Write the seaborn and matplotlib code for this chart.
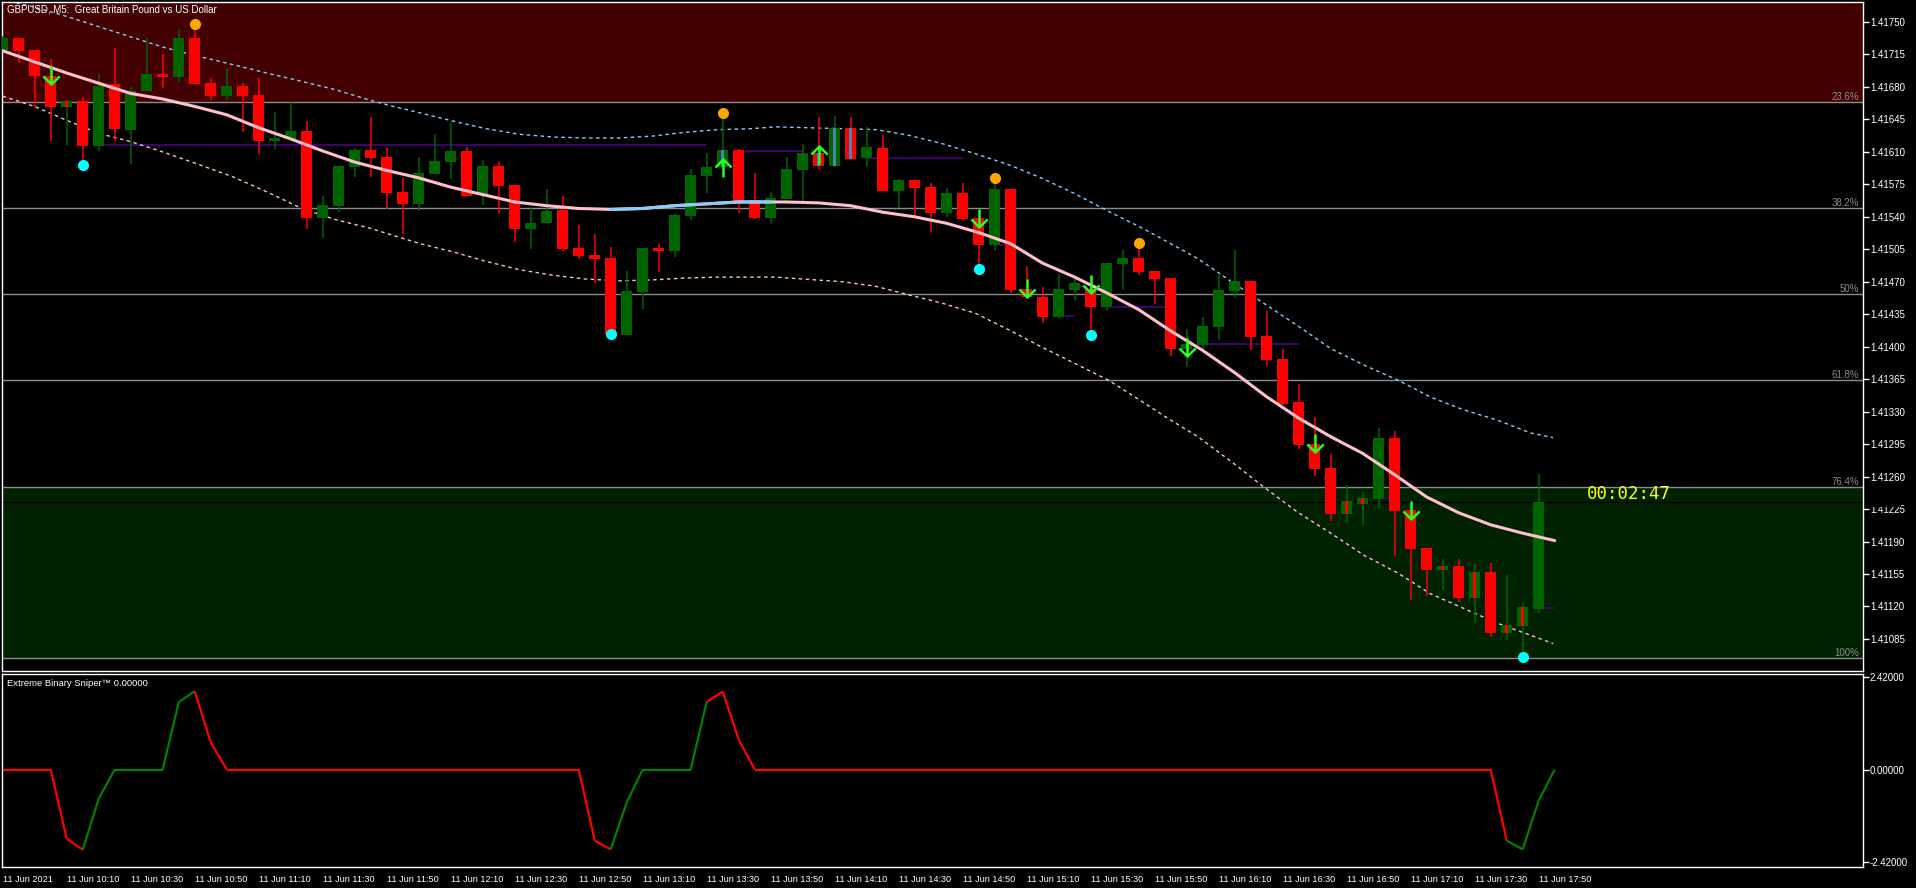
import numpy as np
import pandas as pd
import matplotlib
matplotlib.use("Agg")
import matplotlib.pyplot as plt
from matplotlib.path import Path
import seaborn as sns

# GBPUSD M5 bars, 09:50 .. 17:50
opens = [1.41720, 1.41733, 1.41720, 1.41692, 1.41658, 1.41665, 1.41616, 1.41683, 1.41634, 1.41676,
         1.41694, 1.41691, 1.41733, 1.41684, 1.41670, 1.41681, 1.41671, 1.41622, 1.41624, 1.41632,
         1.41539, 1.41552, 1.41594, 1.41612, 1.41604, 1.41567, 1.41554, 1.41586, 1.41599, 1.41611,
         1.41565, 1.41595, 1.41574, 1.41527, 1.41533, 1.41547, 1.41506, 1.41499, 1.41496, 1.41413,
         1.41459, 1.41506, 1.41503, 1.41541, 1.41584, 1.41594, 1.41612, 1.41558, 1.41539, 1.41559,
         1.41590, 1.41609, 1.41595, 1.41636, 1.41603, 1.41614, 1.41568, 1.41580, 1.41572, 1.41544,
         1.41566, 1.41539, 1.41510, 1.41570, 1.41462, 1.41454, 1.41432, 1.41461, 1.41462, 1.41443,
         1.41489, 1.41496, 1.41482, 1.41474, 1.41397, 1.41402, 1.41421, 1.41460, 1.41471, 1.41411,
         1.41387, 1.41340, 1.41295, 1.41269, 1.41220, 1.41230, 1.41236, 1.41302, 1.41224, 1.41183,
         1.41159, 1.41164, 1.41129, 1.41157, 1.41091, 1.41099, 1.41117]
highs = [1.41735, 1.41733, 1.41720, 1.41710, 1.41666, 1.41669, 1.41694, 1.41722, 1.41680, 1.41733,
         1.41716, 1.41742, 1.41741, 1.41690, 1.41700, 1.41684, 1.41690, 1.41653, 1.41665, 1.41643,
         1.41562, 1.41595, 1.41614, 1.41648, 1.41614, 1.41582, 1.41604, 1.41629, 1.41642, 1.41615,
         1.41601, 1.41600, 1.41574, 1.41551, 1.41570, 1.41562, 1.41531, 1.41521, 1.41508, 1.41482,
         1.41506, 1.41511, 1.41543, 1.41592, 1.41609, 1.41645, 1.41613, 1.41587, 1.41567, 1.41604,
         1.41618, 1.41648, 1.41649, 1.41648, 1.41637, 1.41628, 1.41581, 1.41580, 1.41576, 1.41571,
         1.41576, 1.41539, 1.41575, 1.41570, 1.41487, 1.41464, 1.41478, 1.41473, 1.41469, 1.41490,
         1.41504, 1.41505, 1.41482, 1.41474, 1.41419, 1.41432, 1.41477, 1.41504, 1.41471, 1.41438,
         1.41397, 1.41360, 1.41324, 1.41284, 1.41251, 1.41243, 1.41312, 1.41309, 1.41224, 1.41183,
         1.41171, 1.41171, 1.41166, 1.41167, 1.41154, 1.41124, 1.41263]
lows = [1.41718, 1.41706, 1.41657, 1.41622, 1.41617, 1.41601, 1.41611, 1.41622, 1.41597, 1.41676,
        1.41679, 1.41685, 1.41683, 1.41666, 1.41666, 1.41631, 1.41608, 1.41613, 1.41624, 1.41527,
        1.41517, 1.41545, 1.41583, 1.41583, 1.41548, 1.41522, 1.41546, 1.41586, 1.41581, 1.41562,
        1.41553, 1.41543, 1.41513, 1.41505, 1.41533, 1.41503, 1.41494, 1.41469, 1.41413, 1.41413,
        1.41441, 1.41480, 1.41497, 1.41537, 1.41566, 1.41590, 1.41544, 1.41538, 1.41532, 1.41559,
        1.41556, 1.41592, 1.41594, 1.41601, 1.41594, 1.41568, 1.41549, 1.41541, 1.41524, 1.41540,
        1.41537, 1.41488, 1.41503, 1.41458, 1.41451, 1.41426, 1.41431, 1.41450, 1.41418, 1.41438,
        1.41461, 1.41477, 1.41446, 1.41390, 1.41378, 1.41396, 1.41407, 1.41452, 1.41396, 1.41379,
        1.41337, 1.41290, 1.41261, 1.41212, 1.41210, 1.41208, 1.41226, 1.41174, 1.41127, 1.41131,
        1.41138, 1.41125, 1.41102, 1.41087, 1.41084, 1.41068, 1.41113]
closes = [1.41733, 1.41719, 1.41692, 1.41658, 1.41665, 1.41616, 1.41681, 1.41635, 1.41676, 1.41694,
          1.41691, 1.41733, 1.41683, 1.41670, 1.41681, 1.41670, 1.41622, 1.41625, 1.41632, 1.41539,
          1.41553, 1.41595, 1.41612, 1.41603, 1.41566, 1.41554, 1.41587, 1.41600, 1.41611, 1.41562,
          1.41595, 1.41573, 1.41527, 1.41533, 1.41546, 1.41505, 1.41498, 1.41494, 1.41413, 1.41460,
          1.41506, 1.41503, 1.41542, 1.41585, 1.41594, 1.41612, 1.41556, 1.41539, 1.41560, 1.41592,
          1.41609, 1.41595, 1.41636, 1.41602, 1.41615, 1.41568, 1.41580, 1.41571, 1.41544, 1.41566,
          1.41538, 1.41510, 1.41570, 1.41461, 1.41454, 1.41432, 1.41462, 1.41469, 1.41443, 1.41490,
          1.41496, 1.41480, 1.41473, 1.41397, 1.41403, 1.41422, 1.41461, 1.41471, 1.41410, 1.41386,
          1.41338, 1.41294, 1.41268, 1.41220, 1.41234, 1.41237, 1.41302, 1.41223, 1.41182, 1.41159,
          1.41164, 1.41129, 1.41157, 1.41091, 1.41100, 1.41119, 1.41233]

# small inner histogram bars drawn inside some candles
inner_idx = [4, 45, 51, 52, 53, 84, 85, 90, 92, 94, 95]
inner_colors = ["#ff0000", "#4682b4", "#4682b4", "#4682b4", "#4682b4",
                "#ff0000", "#ff0000", "#ff0000", "#ff0000", "#ff0000", "#ff0000"]

# moving average (pink, light blue while turning up)
ma_idx = [0, 2, 4, 6, 8, 10, 12, 14, 16, 18, 20, 22, 24, 26, 28, 30, 32, 34, 36, 38, 40, 42, 44, 46,
          48, 49, 51, 53, 55, 57, 59, 61, 63, 65, 67, 69, 71, 73, 75, 77, 79, 81, 83, 85, 87, 89,
          91, 93, 95, 97]
ma_val = [1.41719, 1.41707, 1.41695, 1.41684, 1.41673, 1.41667, 1.41659, 1.41650, 1.41636, 1.41624,
          1.41611, 1.41599, 1.41590, 1.41582, 1.41572, 1.41564, 1.41556, 1.41552, 1.41549, 1.41548,
          1.41549, 1.41552, 1.41554, 1.41556, 1.41556, 1.41556, 1.41555, 1.41552, 1.41545, 1.41540,
          1.41533, 1.41523, 1.41511, 1.41490, 1.41475, 1.41458, 1.41440, 1.41417, 1.41396, 1.41372,
          1.41346, 1.41323, 1.41303, 1.41285, 1.41262, 1.41238, 1.41221, 1.41208, 1.41199, 1.41191]
ma_up_from, ma_up_to = 38, 48

# envelope bands
band_idx = [0, 2, 4, 6, 8, 10, 12, 14.4, 16.5, 18.7, 20.8, 22.9, 24.4, 26.1, 28.2, 30.2, 32.3, 34.4,
            36.4, 38.5, 40.6, 42.6, 44.7, 46.8, 48.3, 52.5, 54.6, 56.6, 58.7, 60.8, 62.9, 64.9, 67,
            69.1, 71.2, 72.8, 74.7, 76.8, 78.8, 80.9, 83, 85.1, 87.2, 89.2, 91.3, 93.4, 95.5, 96.9]
upper_band = [1.41774, 1.41766, 1.41756, 1.41745, 1.41734, 1.41723, 1.41714, 1.41704, 1.41695, 1.41686,
              1.41677, 1.41666, 1.41659, 1.41652, 1.41643, 1.41635, 1.41629, 1.41626, 1.41625, 1.41625,
              1.41627, 1.41631, 1.41634, 1.41635, 1.41637, 1.41635, 1.41634, 1.41628, 1.41619, 1.41608,
              1.41596, 1.41582, 1.41565, 1.41546, 1.41528, 1.41513, 1.41495, 1.41470, 1.41447, 1.41423,
              1.41398, 1.41380, 1.41364, 1.41346, 1.41332, 1.41321, 1.41307, 1.41302]
lower_band = [1.41670, 1.41659, 1.41644, 1.41630, 1.41621, 1.41610, 1.41598, 1.41583, 1.41567, 1.41549,
              1.41537, 1.41528, 1.41520, 1.41511, 1.41502, 1.41492, 1.41483, 1.41477, 1.41473, 1.41471,
              1.41472, 1.41474, 1.41475, 1.41475, 1.41475, 1.41470, 1.41465, 1.41456, 1.41447, 1.41436,
              1.41418, 1.41400, 1.41382, 1.41364, 1.41341, 1.41323, 1.41303, 1.41276, 1.41249, 1.41222,
              1.41199, 1.41175, 1.41156, 1.41134, 1.41118, 1.41102, 1.41089, 1.41080]

# horizontal purple levels: start bar, end bar, price
lvl_start = [5.9, 45.9, 54, 62, 66, 69, 75, 86, 96]
lvl_end = [44, 50, 60, 62.9, 67, 73, 81, 87, 97]
lvl_price = [1.41617, 1.41611, 1.41603, 1.41510, 1.41433, 1.41443, 1.41403, 1.41237, 1.41118]

# signals
down_idx = [3, 61, 64, 68, 74, 82, 88]
down_val = [1.41693, 1.41539, 1.41463, 1.41468, 1.41400, 1.41296, 1.41224]
up_idx = [45, 51]
up_val = [1.41593, 1.41607]
orange_idx = [12, 45, 62, 71]
orange_val = [1.41748, 1.41652, 1.41582, 1.41512]
cyan_idx = [5, 38, 61, 68, 95]
cyan_val = [1.41596, 1.41414, 1.41484, 1.41413, 1.41066]

# fibonacci retracement
fib_high, fib_low = 1.41849, 1.41064
fib_ratios = [0.236, 0.382, 0.5, 0.618, 0.764, 1.0]
fib_labels = ["23.6%", "38.2%", "50%", "61.8%", "76.4%", "100%"]

bid = 1.41233
timer = "00:02:47"

# Extreme Binary Sniper oscillator: turning points + segment colours
ebs_x = [0, 3, 4, 5, 6, 7, 10, 11, 12, 13, 14, 36, 37, 38, 39, 40, 43, 44, 45, 46, 47, 93, 94, 95, 96, 97]
ebs_v = [0, 0, -1.82, -2.11, -0.77, 0, 0, 1.77, 2.06, 0.72, 0, 0, -1.87, -2.10, -0.87, 0, 0, 1.78,
         2.05, 0.79, 0, 0, -1.87, -2.10, -0.82, 0]
ebs_col = ["r", "r", "r", "g", "g", "g", "g", "g", "r", "r", "r", "r", "r", "g", "g", "g", "g", "r",
           "r", "r", "r", "r", "g", "g", "g"]

tick_idx = list(range(0, 97, 4))
tick_labels = ["11 Jun 2021", "11 Jun 10:10", "11 Jun 10:30", "11 Jun 10:50", "11 Jun 11:10",
               "11 Jun 11:30", "11 Jun 11:50", "11 Jun 12:10", "11 Jun 12:30", "11 Jun 12:50",
               "11 Jun 13:10", "11 Jun 13:30", "11 Jun 13:50", "11 Jun 14:10", "11 Jun 14:30",
               "11 Jun 14:50", "11 Jun 15:10", "11 Jun 15:30", "11 Jun 15:50", "11 Jun 16:10",
               "11 Jun 16:30", "11 Jun 16:50", "11 Jun 17:10", "11 Jun 17:30", "11 Jun 17:50"]

GREEN, RED = "#006400", "#ff0000"
FONT = ["Liberation Sans Narrow", "Liberation Sans", "DejaVu Sans"]

sns.set_theme(style="dark", rc={"axes.facecolor": "black", "figure.facecolor": "black",
                                "axes.edgecolor": "white", "axes.linewidth": 1.0,
                                "xtick.color": "white", "ytick.color": "white",
                                "axes.grid": False})
plt.rcParams["font.family"] = FONT

W, H = 1916, 888
fig = plt.figure(figsize=(W / 100, H / 100), dpi=100, facecolor="black")


def box(x0, y0, x1, y1):
    return [x0 / W, 1 - y1 / H, (x1 - x0) / W, (y1 - y0) / H]


ax = fig.add_axes(box(2, 2, 1863, 671))
axi = fig.add_axes(box(2, 674, 1863, 867))
for a in (ax, axi):
    a.set_facecolor("black")
    a.set_xlim(-0.044, 116.27)
    for s in a.spines.values():
        s.set_color("white")
        s.set_linewidth(1)
ax.set_ylim(1.4105043, 1.4177156)
axi.set_ylim(-2.564, 2.512)

# fibonacci zones and levels
fib_levels = [fib_high - r * (fib_high - fib_low) for r in fib_ratios]
ax.axhspan(fib_levels[0], fib_high, color="#430000", lw=0, zorder=0)
ax.axhspan(fib_levels[-1], fib_levels[4], color="#002200", lw=0, zorder=0)
for lv, lab in zip(fib_levels, fib_labels):
    ax.axhline(lv, color="#8c8c8c", lw=1, zorder=1)
    ax.text(0.998, lv, lab, transform=ax.get_yaxis_transform(), ha="right", va="bottom",
            color="#8c8c8c", fontsize=7)

ax.axhline(bid, color="black", lw=1, zorder=1)

# purple levels
ax.hlines(lvl_price, lvl_start, lvl_end, colors="#4b0082", lw=1.2, zorder=2)

# bands
sns.lineplot(x=band_idx, y=upper_band, ax=ax, color="#87cefa", lw=1, linestyle=(0, (2.5, 2.5)),
             estimator=None, sort=False, zorder=2)
sns.lineplot(x=band_idx, y=lower_band, ax=ax, color="#ffc0cb", lw=1, linestyle=(0, (2.5, 2.5)),
             estimator=None, sort=False, zorder=2)

# candles
df = pd.DataFrame({"o": opens, "h": highs, "l": lows, "c": closes})
df["i"] = np.arange(len(df))
col = np.where(df.c >= df.o, GREEN, RED)
ax.vlines(df.i, df.l, df.h, colors=col, lw=1.1, zorder=3)
body_lo = np.minimum(df.o, df.c)
body_h = np.maximum((df.c - df.o).abs(), 0.000012)
ax.bar(df.i, body_h, bottom=body_lo, width=0.68, color=col, lw=0, zorder=4)
ii = df.loc[inner_idx]
ax.bar(ii.i, np.maximum((ii.c - ii.o).abs(), 0.00003), bottom=np.minimum(ii.o, ii.c),
       width=0.22, color=inner_colors, lw=0, zorder=5)

# moving average
ma = pd.DataFrame({"i": ma_idx, "v": ma_val})
sns.lineplot(data=ma, x="i", y="v", ax=ax, color="#ffc0cb", lw=2.2, estimator=None, sort=False,
             zorder=6)
seg = ma[(ma.i >= ma_up_from) & (ma.i <= ma_up_to)]
sns.lineplot(data=seg, x="i", y="v", ax=ax, color="#87cefa", lw=2.2, estimator=None, sort=False,
             zorder=6)

# signal markers
down_arrow = Path([(0, 0.5), (0, -0.5), (-0.45, -0.05), (0, -0.5), (0.45, -0.05)],
                  [Path.MOVETO, Path.LINETO, Path.MOVETO, Path.LINETO, Path.LINETO])
up_arrow = Path([(0, -0.5), (0, 0.5), (-0.45, 0.05), (0, 0.5), (0.45, 0.05)],
                [Path.MOVETO, Path.LINETO, Path.MOVETO, Path.LINETO, Path.LINETO])
ax.plot(down_idx, down_val, ls="none", marker=down_arrow, ms=13, mfc="none", mec="#22ff22",
        mew=1.8, zorder=7)
ax.plot(up_idx, up_val, ls="none", marker=up_arrow, ms=13, mfc="none", mec="#22ff22",
        mew=1.8, zorder=7)
ax.plot(orange_idx, orange_val, ls="none", marker="o", ms=8, color="#ffa500", mec="none", zorder=7)
ax.plot(cyan_idx, cyan_val, ls="none", marker="o", ms=8, color="#00ffff", mec="none", zorder=7)

# texts
ax.text(0.0025, 0.996, "GBPUSD, M5:  Great Britain Pound vs US Dollar", transform=ax.transAxes,
        ha="left", va="top", color="white", fontsize=7)
ax.text(99.0, 1.41241, timer, ha="left", va="center", color="#ffff00", fontsize=12.5,
        family="DejaVu Sans Mono", zorder=8)

# price axis
yt = 1.41085 + 0.00035 * np.arange(20)
ax.yaxis.tick_right()
ax.set_yticks(yt)
ax.set_yticklabels([f"{v:.5f}" for v in yt])
ax.tick_params(axis="y", colors="white", labelsize=7, length=4, width=1, pad=1, direction="out")
ax.set_xticks([])
ax.set_xlabel("")
ax.set_ylabel("")
ax.text(1.0015, bid, "1.41233", transform=ax.get_yaxis_transform(), ha="left", va="center",
        color="black", fontsize=7, clip_on=False, zorder=10,
        bbox=dict(fc="black", ec="none", pad=0.5))

# oscillator
for k in range(len(ebs_x) - 1):
    axi.plot(ebs_x[k:k + 2], ebs_v[k:k + 2], color=RED if ebs_col[k] == "r" else "#008000",
             lw=1.6, solid_capstyle="butt")
axi.text(0.0025, 0.975, "Extreme Binary Sniper\u2122 0.00000", transform=axi.transAxes,
         ha="left", va="top", color="white", fontsize=6.8)
axi.yaxis.tick_right()
axi.set_yticks([2.42, 0.0, -2.42])
axi.set_yticklabels(["2.42000", "0.00000", "-2.42000"])
axi.tick_params(axis="y", colors="white", labelsize=7, length=4, width=1, pad=1)
axi.set_xticks(tick_idx)
axi.set_xticklabels(tick_labels)
axi.tick_params(axis="x", colors="white", labelsize=6.6, length=4, width=1, pad=1.5,
                direction="out")
for t in axi.get_xticklabels():
    t.set_ha("left")

fig.savefig("out.png", dpi=100, facecolor="black")
